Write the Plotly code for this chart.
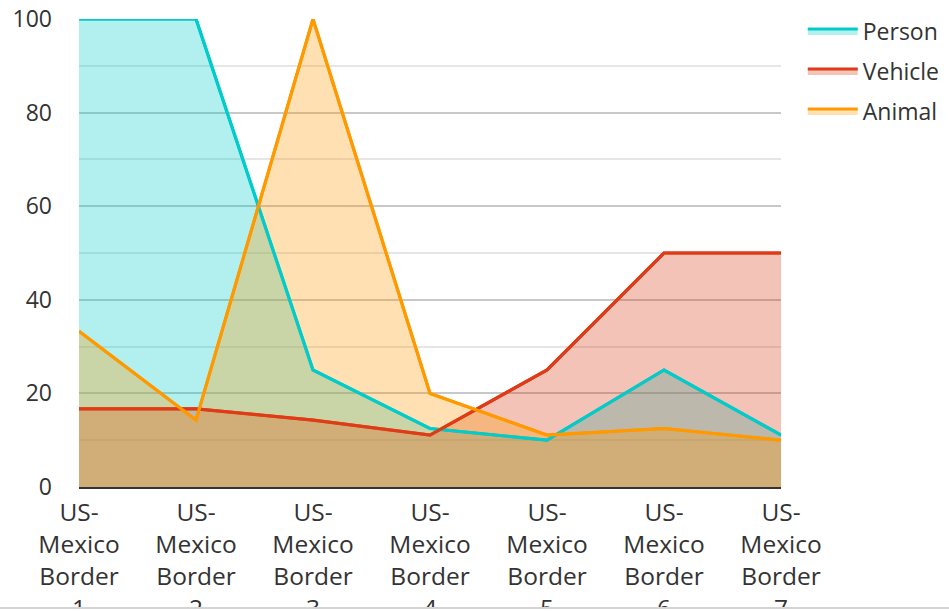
import plotly.graph_objects as go

categories = [f"US-<br>Mexico<br>Border<br>{i}" for i in range(1, 8)]
person = [100, 100, 25, 12.5, 10, 25, 11.1]
vehicle = [16.7, 16.7, 14.3, 11.1, 25, 50, 50]
animal = [33.3, 14.3, 100, 20, 11.1, 12.5, 10]

series = [
    ("Person", person, "#00cccc", "rgba(0,204,204,0.3)"),
    ("Vehicle", vehicle, "#de3b16", "rgba(214,56,18,0.3)"),
    ("Animal", animal, "#ff9900", "rgba(255,153,0,0.3)"),
]

W, H = 949, 612
L, R, T, B = 79, 168, 19, 125
plot_w = W - L - R
plot_h = H - T - B

fig = go.Figure()
# filled areas (with legend entries)
for name, vals, line_c, fill_c in series:
    fig.add_trace(go.Scatter(
        x=categories, y=vals, name=name, mode="lines", legendgroup=name,
        line=dict(color=line_c, width=3),
        fill="tozeroy", fillcolor=fill_c,
        hoverinfo="skip",
    ))
# outlines drawn above every fill
for name, vals, line_c, fill_c in series:
    fig.add_trace(go.Scatter(
        x=categories, y=vals, name=name, mode="lines", legendgroup=name,
        line=dict(color=line_c, width=3.2),
        showlegend=False, hoverinfo="skip",
    ))

font = dict(family="Open Sans, sans-serif", size=23, color="#333333")
xfont = dict(family="Open Sans, sans-serif", size=24.5, color="#333333")

fig.update_layout(
    width=W, height=H,
    margin=dict(l=L, r=R, t=T, b=B, pad=0, autoexpand=False),
    paper_bgcolor="white", plot_bgcolor="white",
    font=font,
    showlegend=True,
    legend=dict(
        x=1.031, xanchor="left", y=1.020, yanchor="top",
        font=dict(family="Open Sans, sans-serif", size=23, color="#333333"),
        itemwidth=50, tracegroupgap=7,
        bgcolor="rgba(0,0,0,0)",
    ),
    xaxis=dict(
        type="category", range=[0, 6],
        showgrid=False, zeroline=False,
        showline=True, linecolor="#333333", linewidth=2,
        ticks="", tickfont=xfont, automargin=False,
        ticklabelstandoff=3,
        fixedrange=True,
    ),
    yaxis=dict(
        range=[0, 100], dtick=20, tick0=0,
        showgrid=True, gridcolor="#c8c8c8", gridwidth=1.5,
        minor=dict(dtick=10, showgrid=True, gridcolor="#e6e6e6", gridwidth=1.5),
        zeroline=False, showline=False,
        ticks="", ticklabelstandoff=26,
        tickfont=font, automargin=False,
        fixedrange=True,
    ),
)

# bottom edge of the container: hides overflow and draws a thin rule
y_cut = (487 - 607) / plot_h
y_bot = (487 - 613) / plot_h
x_left = -L / plot_w
x_right = (W - L) / plot_w
fig.add_shape(type="rect", xref="paper", yref="paper",
              x0=x_left, x1=x_right, y0=y_bot, y1=y_cut,
              fillcolor="white", line=dict(width=0), layer="above")
fig.add_shape(type="line", xref="paper", yref="paper",
              x0=x_left, x1=x_right, y0=y_cut - 0.002, y1=y_cut - 0.002,
              line=dict(color="#d4d4d4", width=2), layer="above")

fig.write_html("out.html", config=dict(displayModeBar=False))
